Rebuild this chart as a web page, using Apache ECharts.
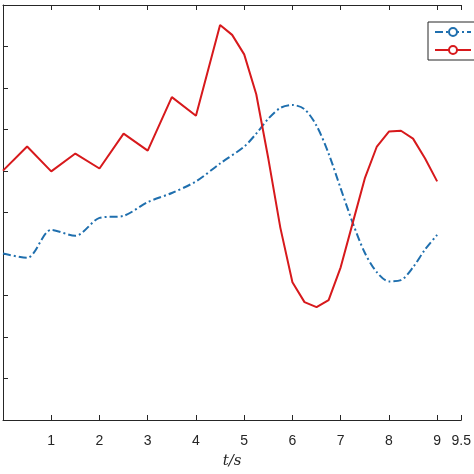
<!DOCTYPE html>
<html><head><meta charset="utf-8">
<script src="https://cdn.jsdelivr.net/npm/echarts@6/dist/echarts.min.js"></script>
<style>html,body{margin:0;background:#fff}#c{width:474px;height:474px}</style>
</head><body><div id="c"></div>
<script>
// tiempo (s) y valores (en píxeles de altura -> unidades)
const tRed = [0, 0.5, 1, 1.5, 2, 2.5, 3, 3.5, 4, 4.5, 4.75, 5, 5.25, 5.5, 5.75, 6, 6.25, 6.5, 6.75, 7, 7.25, 7.5, 7.75, 8, 8.25, 8.5, 8.75, 9];
const pyRed = [172, 148, 173, 155, 170, 135, 152, 98, 117, 25, 35, 55, 95, 160, 230, 285, 305, 310, 303, 270, 225, 180, 148, 133, 132, 140, 160, 183];
const tBlue = [0, 0.5, 1, 1.5, 2, 2.5, 3, 3.5, 4, 4.5, 5, 5.25, 5.5, 5.75, 6, 6.25, 6.5, 6.75, 7, 7.25, 7.5, 7.75, 8, 8.25, 8.5, 8.75, 9];
const pyBlue = [256, 260, 232, 238, 220, 218, 204, 195, 183, 165, 148, 135, 120, 109, 106, 110, 127, 155, 190, 225, 255, 275, 284, 283, 270, 252, 237];

const toVal = py => +((424 - py) / 41.9).toFixed(2);
const red = tRed.map((t, i) => [t, toVal(pyRed[i])]);
const blue = tBlue.map((t, i) => [t, toVal(pyBlue[i])]);

const chart = echarts.init(document.getElementById('c'));
const axisCommon = {
  axisLine: { lineStyle: { color: '#262626', width: 1 } },
  axisTick: { inside: true, length: 5, lineStyle: { color: '#262626' } },
  splitLine: { show: false }
};
chart.setOption({
  animation: false,
  grid: { left: -4.5, right: -25, top: 5, bottom: 50 },
  legend: {
    left: 428, top: 22, orient: 'vertical', itemGap: 6,
    padding: [4, 6], itemWidth: 36, itemHeight: 10,
    borderColor: '#262626', borderWidth: 1, backgroundColor: '#fff',
    textStyle: { fontSize: 12 },
    data: ['Reference', 'Actual']
  },
  xAxis: [
    { type: 'value', min: 0, max: 9.5, interval: 1, ...axisCommon,
      axisLabel: { color: '#262626', fontSize: 14, fontFamily: 'Liberation Sans', margin: 14,
        formatter: v => v === 0 ? '' : String(v) },
      name: 't/s', nameLocation: 'middle', nameGap: 34,
      nameTextStyle: { fontFamily: 'DejaVu Serif', fontStyle: 'italic', fontSize: 15, color: '#262626' } },
    { type: 'value', position: 'top', min: 0, max: 9.5, interval: 1, ...axisCommon, axisLabel: { show: false } }
  ],
  yAxis: [
    { type: 'value', min: 0, max: 10, interval: 1, ...axisCommon, axisLabel: { show: false } }
  ],
  series: [
    { name: 'Reference', type: 'line', data: blue, showSymbol: false, smooth: 0.3,
      itemStyle: { color: '#1f6fae' },
      lineStyle: { color: '#1f6fae', width: 2, type: [8, 3, 2, 3] } },
    { name: 'Actual', type: 'line', data: red, showSymbol: false,
      itemStyle: { color: '#d7191c' },
      lineStyle: { color: '#d7191c', width: 2 } }
  ]
});
</script></body></html>
